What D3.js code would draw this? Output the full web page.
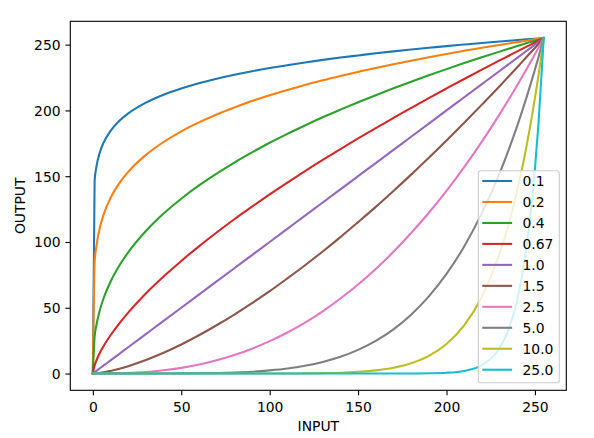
<!DOCTYPE html>
<html>
<head>
<meta charset="utf-8">
<script src="https://cdn.jsdelivr.net/npm/d3@7"></script>
<style>
  html, body { margin: 0; padding: 0; background: #fff; }
  svg { display: block; }
  text { font-family: "DejaVu Sans", sans-serif; }
</style>
</head>
<body>
<svg id="chart" width="594" height="438"></svg>
<script>
// ---- data ----
const inputs = [0,1,2,4,6,10,15,20,30,40,50,60,70,80,90,100,110,120,130,140,150,160,170,180,190,200,210,220,230,235,240,245,250,252,255];
const gammas = ["0.1","0.2","0.4","0.67","1.0","1.5","2.5","5.0","10.0","25.0"];
const out_0_1  = [0,146.5,157.0,168.3,175.3,184.4,192.1,197.7,205.9,211.9,216.7,220.7,224.1,227.1,229.8,232.2,234.4,236.5,238.4,240.2,241.8,243.4,244.9,246.3,247.6,248.9,250.1,251.3,252.4,252.9,253.5,254.0,254.5,254.7,255];
const out_0_2  = [0,84.2,96.7,111.1,120.5,133.4,144.7,153.3,166.2,176.0,184.1,190.9,196.9,202.2,207.1,211.5,215.5,219.3,222.9,226.2,229.3,232.3,235.1,237.8,240.4,242.9,245.3,247.6,249.8,250.9,251.9,253.0,254.0,254.4,255];
const out_0_4  = [0,27.8,36.7,48.4,56.9,69.8,82.1,92.1,108.3,121.6,132.9,143.0,152.0,160.4,168.1,175.4,182.2,188.6,194.8,200.6,206.2,211.6,216.8,221.8,226.7,231.4,236.0,240.4,244.7,246.8,248.9,251.0,253.0,253.8,255];
const out_0_67 = [0,6.2,9.9,15.8,20.7,29.1,38.2,46.3,60.8,73.7,85.6,96.7,107.2,117.3,126.9,136.2,145.2,153.9,162.4,170.6,178.7,186.6,194.3,201.9,209.4,216.7,223.9,231.0,238.0,241.4,244.9,248.3,251.6,253.0,255];
const out_1_0  = [0,1,2,4,6,10,15,20,30,40,50,60,70,80,90,100,110,120,130,140,150,160,170,180,190,200,210,220,230,235,240,245,250,252,255];
const out_1_5  = [0,0.1,0.2,0.5,0.9,2.0,3.6,5.6,10.3,15.8,22.1,29.1,36.7,44.8,53.5,62.6,72.3,82.3,92.8,103.7,115.1,126.7,138.8,151.2,164.0,177.1,190.6,204.4,218.4,225.6,232.8,240.2,247.5,250.5,255];
const out_2_5  = [0,0,0,0,0,0.1,0.2,0.4,1.2,2.5,4.3,6.8,10.1,14.1,18.9,24.6,31.2,38.7,47.3,57.0,67.7,79.5,92.5,106.8,122.2,138.9,156.9,176.3,197.0,207.9,219.1,230.7,242.7,247.6,255];
const out_5_0  = [0,0,0,0,0,0,0,0,0,0,0.1,0.2,0.4,0.8,1.4,2.4,3.8,5.9,8.8,12.7,18.0,24.8,33.6,44.7,58.6,75.7,96.6,121.9,152.2,169.5,188.3,208.8,231.0,240.3,255];
const out_10_0 = [0,0,0,0,0,0,0,0,0,0,0,0,0,0,0,0,0,0.1,0.3,0.6,1.3,2.4,4.4,7.8,13.4,22.5,36.6,58.3,90.9,112.7,139.1,170.9,209.2,226.5,255];
const out_25_0 = [0,0,0,0,0,0,0,0,0,0,0,0,0,0,0,0,0,0,0,0,0,0,0,0,0.2,0.6,2.0,6.4,19.3,33.1,56.0,93.8,155.4,189.7,255];
const outputs = [out_0_1,out_0_2,out_0_4,out_0_67,out_1_0,out_1_5,out_2_5,out_5_0,out_10_0,out_25_0];
const xTicks = [0,50,100,150,200,250];
const yTicks = [0,50,100,150,200,250];
const colors = ["#1f77b4","#ff7f0e","#2ca02c","#d62728","#9467bd","#8c564b","#e377c2","#7f7f7f","#bcbd22","#17becf"];

// ---- layout ----
const L = 70.3, R = 566.3, T = 21.3, B = 390.3;
const fs = 13.9;
const svg = d3.select("#chart");
svg.append("rect").attr("width",594).attr("height",438).attr("fill","#fff");

const x = d3.scaleLinear().domain([-12.75, 267.75]).range([L, R]);
const y = d3.scaleLinear().domain([-12.75, 267.75]).range([B, T]);

const clipId = "plotclip";
svg.append("clipPath").attr("id", clipId).append("rect")
  .attr("x", L).attr("y", T).attr("width", R-L).attr("height", B-T);

const line = d3.line().x(d => x(d[0])).y(d => y(d[1])).curve(d3.curveMonotoneX);
const gLines = svg.append("g").attr("clip-path", `url(#${clipId})`);
outputs.forEach((vals, i) => {
  gLines.append("path")
    .datum(inputs.map((v, j) => [v, vals[j]]))
    .attr("d", line)
    .attr("fill", "none")
    .attr("stroke", colors[i])
    .attr("stroke-width", 2.08)
    .attr("stroke-linejoin", "round")
    .attr("stroke-linecap", "square");
});

// axes
const xAxis = svg.append("g").attr("transform", `translate(0,${B})`)
  .call(d3.axisBottom(x).tickValues(xTicks).tickSize(4.86).tickPadding(4.86).tickSizeOuter(0));
xAxis.select(".domain").remove();
xAxis.selectAll("line").attr("stroke","#000").attr("stroke-width",1.1);
xAxis.selectAll("text").attr("font-size", fs).attr("font-family","DejaVu Sans").attr("fill","#000").attr("dy","0.84em");

const yAxis = svg.append("g").attr("transform", `translate(${L},0)`)
  .call(d3.axisLeft(y).tickValues(yTicks).tickSize(4.86).tickPadding(4.86).tickSizeOuter(0));
yAxis.select(".domain").remove();
yAxis.selectAll("line").attr("stroke","#000").attr("stroke-width",1.1);
yAxis.selectAll("text").attr("font-size", fs).attr("font-family","DejaVu Sans").attr("fill","#000").attr("dy","0.36em");

// frame
svg.append("rect").attr("x", L).attr("y", T).attr("width", R-L).attr("height", B-T)
  .attr("fill","none").attr("stroke","#000").attr("stroke-width",1.1);

// axis labels
svg.append("text").attr("x", (L+R)/2).attr("y", 430.5).attr("text-anchor","middle")
  .attr("font-size", fs).text("INPUT");
svg.append("text").attr("transform", `translate(25,${(T+B)/2}) rotate(-90)`)
  .attr("text-anchor","middle").attr("font-size", fs).text("OUTPUT");

// legend
const lg = svg.append("g");
lg.append("rect").attr("x", 478.3).attr("y", 170.7).attr("width", 81).attr("height", 212)
  .attr("rx", 2.8).attr("fill","#fff").attr("fill-opacity",0.8)
  .attr("stroke","#cccccc").attr("stroke-width",1.1);
gammas.forEach((g, i) => {
  const cy = 181 + i * 20.97;
  lg.append("line").attr("x1", 483.3).attr("x2", 511.1).attr("y1", cy).attr("y2", cy)
    .attr("stroke", colors[i]).attr("stroke-width", 2.08).attr("stroke-linecap","square");
  lg.append("text").attr("x", 522.5).attr("y", cy).attr("dy","0.36em")
    .attr("font-size", fs).text(g);
});
</script>
</body>
</html>
